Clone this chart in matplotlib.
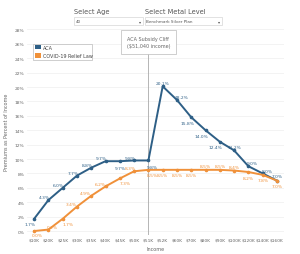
import matplotlib.pyplot as plt
from matplotlib.patches import Rectangle

# data
incomes = ["$10K", "$20K", "$25K", "$30K", "$35K", "$40K", "$45K", "$50K", "$51K",
           "$52K", "$60K", "$70K", "$80K", "$90K", "$100K", "$120K", "$140K", "$160K"]
aca = [1.7, 4.3, 6.0, 7.7, 8.8, 9.7, 9.7, 9.8, 9.8,
       20.1, 18.2, 15.8, 14.0, 12.4, 11.2, 9.0, 8.0, 7.0]
covid = [0.0, 0.2, 1.7, 3.4, 4.9, 6.2, 7.3, 8.3, 8.5,
         8.5, 8.5, 8.5, 8.5, 8.5, 8.4, 8.2, 7.8, 7.0]
yticks = list(range(0, 30, 2))

blue = "#2e5f86"
orange = "#f0913a"
txt = "#666666"

fig = plt.figure(figsize=(3.0, 2.55), dpi=100)
ax = fig.add_axes([0.09, 0.076, 0.857, 0.813])

x = list(range(len(incomes)))
ax.plot(x, aca, color=blue, lw=1.4, marker="o", ms=1.6, zorder=3)
ax.plot(x, covid, color=orange, lw=1.4, marker="o", ms=1.6, zorder=3)

# value labels (offsets in points)
aca_off = [(-3, -4), (-3, 2), (-3, 2), (-3, 2), (-3, 2), (-3, 2), (0, -5), (-3, 2), (3, -5),
           (0, 2.5), (3, 2), (-3, -4), (-3, -4), (-3, -4), (0, 2.5), (3, 2), (3, 2), (0, 3)]
cov_off = [(2, -3), (3, 2), (4, -4), (-4, 2), (-4, 2), (-4, 2), (4, -3), (-3, 2), (3, -4),
           (0, -4), (0, -4), (0, -4), (0, 2.5), (0, 2.5), (0, 2.5), (0, -4), (0, -4), (0, -4)]
for i in x:
    ax.annotate(f"{aca[i]:.1f}%", (i, aca[i]), xytext=aca_off[i], textcoords="offset points",
                ha="center", va="center", fontsize=3.2, color=blue)
    ax.annotate(f"{covid[i]:.1f}%", (i, covid[i]), xytext=cov_off[i], textcoords="offset points",
                ha="center", va="center", fontsize=3.2, color=orange)

ax.set_xlim(-0.5, len(incomes) - 0.5)
ax.set_ylim(-0.5, 28.3)
ax.set_xticks(x)
ax.set_xticklabels(incomes, fontsize=3.2, color=txt)
ax.set_yticks(yticks)
ax.set_yticklabels([f"{v}%" for v in yticks], fontsize=3.2, color=txt)
ax.tick_params(length=0, pad=2)
ax.grid(axis="y", color="#eeeeee", lw=0.5)
ax.set_axisbelow(True)
for s in ax.spines.values():
    s.set_visible(False)
ax.axhline(-0.5, color="#cccccc", lw=0.5)
ax.set_xlabel("Income", fontsize=3.5, color=txt, labelpad=3)
ax.set_ylabel("Premiums as Percent of Income", fontsize=3.5, color=txt, labelpad=4)

# subsidy cliff marker
ax.plot([8, 8], [-0.5, 25.3], color="#aaaaaa", lw=0.6, zorder=2)
ax.text(8, 26.3, "ACA Subsidy Cliff\n($51,040 income)", ha="center", va="center",
        fontsize=3.5, color=txt, linespacing=1.6,
        bbox=dict(boxstyle="square,pad=1.2", fc="white", ec="#bbbbbb", lw=0.5))

# legend
fig.patches.append(Rectangle((0.11, 0.762), 0.197, 0.063, transform=fig.transFigure,
                             fc="white", ec="#bbbbbb", lw=0.5))
fig.patches.append(Rectangle((0.117, 0.802), 0.018, 0.018, transform=fig.transFigure, fc=blue))
fig.patches.append(Rectangle((0.117, 0.770), 0.018, 0.018, transform=fig.transFigure, fc=orange))
fig.text(0.142, 0.811, "ACA", fontsize=3.5, color="#444444", va="center")
fig.text(0.142, 0.779, "COVID-19 Relief Law", fontsize=3.5, color="#444444", va="center")

# filter controls
fig.text(0.247, 0.952, "Select Age", fontsize=4.8, color="#555555", va="center")
fig.patches.append(Rectangle((0.247, 0.898), 0.23, 0.03, transform=fig.transFigure,
                             fc="white", ec="#cccccc", lw=0.4))
fig.text(0.252, 0.913, "40", fontsize=3, color="#555555", va="center")
fig.text(0.467, 0.913, "▾", fontsize=3, color="#555555", va="center", ha="center")
fig.text(0.483, 0.952, "Select Metal Level", fontsize=4.8, color="#555555", va="center")
fig.patches.append(Rectangle((0.483, 0.898), 0.257, 0.03, transform=fig.transFigure,
                             fc="white", ec="#cccccc", lw=0.4))
fig.text(0.488, 0.913, "Benchmark Silver Plan", fontsize=3, color="#555555", va="center")
fig.text(0.73, 0.913, "▾", fontsize=3, color="#555555", va="center", ha="center")

fig.savefig("out.png", dpi=100)
